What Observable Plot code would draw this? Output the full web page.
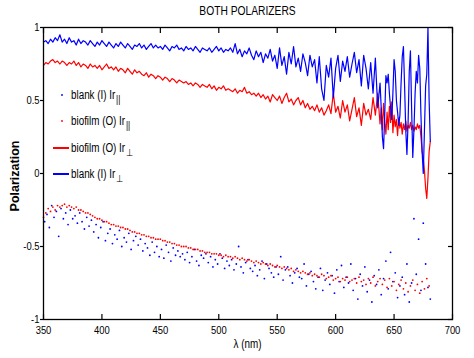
<!DOCTYPE html>
<html><head><meta charset="utf-8">
<script src="https://cdn.jsdelivr.net/npm/d3@7"></script>
<script src="https://cdn.jsdelivr.net/npm/@observablehq/plot@0.6"></script>
<style>
body{margin:0;background:#fff;}
#wrap{position:relative;width:474px;height:358px;overflow:hidden;font-family:"Liberation Sans",Arial,sans-serif;color:#000;}
#title{position:absolute;left:43px;width:409px;top:4px;text-align:center;font-size:12.5px;line-height:14px;transform:scaleX(0.82);transform-origin:center;}
#xlabel{position:absolute;left:43px;width:409px;top:337px;text-align:center;font-size:12px;line-height:14px;transform:scaleX(0.82);transform-origin:center;}
#ylabel{position:absolute;left:15px;top:176px;width:0;height:0;}
#ylabel span{position:absolute;transform:translate(-50%,-50%) rotate(-90deg);white-space:nowrap;font-weight:bold;font-size:12.5px;}
#chart{position:absolute;left:0;top:22px;}
.leg{position:absolute;left:50px;height:16px;display:flex;align-items:center;font-size:12px;white-space:nowrap;}
.leg svg{width:21px;height:16px;display:block;flex:none;}
.leg .txt{display:inline-block;transform:scaleX(0.82);transform-origin:left center;}
.sub{font-size:10px;position:relative;top:4px;margin-left:1px;}
</style>
</head><body>
<div id="wrap">
  <div id="title">BOTH POLARIZERS</div>
  <div id="chart"></div>
  <div id="xlabel">λ (nm)</div>
  <div id="ylabel"><span>Polarization</span></div>
  <div id="legend"></div>
</div>
<script>
// ---- data ----
const xTicks = [350, 400, 450, 500, 550, 600, 650, 700];
const yTicks = [-1, -0.5, 0, 0.5, 1];
const seriesNames = ["blank (I) Ir", "biofilm (O) Ir", "biofilm (O) Ir", "blank (I) Ir"];
const seriesSubs = ["||", "||", "⊥", "⊥"];

// wavelength grids (nm)
const lineLambda = [...d3.range(350, 640, 2), ...d3.range(639, 682, 1)];
const blankDotLambda = d3.range(351, 682, 2);
const biofilmDotLambda = d3.range(350, 681, 2);

// blank (I) Ir_perp  (blue line)
const blankPerp = [
  0.90,0.91,0.89,0.92,0.90,0.93,0.91,0.95,0.90,0.92,
  0.89,0.93,0.90,0.91,0.88,0.92,0.89,0.91,0.90,0.88,
  0.91,0.89,0.87,0.90,0.88,0.91,0.89,0.87,0.90,0.88,
  0.86,0.89,0.87,0.90,0.88,0.86,0.89,0.87,0.85,0.88,
  0.87,0.89,0.86,0.88,0.85,0.87,0.89,0.86,0.88,0.86,
  0.87,0.85,0.88,0.86,0.84,0.87,0.86,0.88,0.85,0.86,
  0.84,0.87,0.85,0.86,0.84,0.87,0.85,0.83,0.86,0.85,
  0.84,0.86,0.83,0.85,0.87,0.84,0.86,0.83,0.85,0.84,
  0.86,0.83,0.89,0.82,0.85,0.80,0.84,0.82,0.86,0.81,
  0.78,0.84,0.80,0.83,0.76,0.82,0.79,0.85,0.77,0.81,
  0.72,0.86,0.74,0.80,0.68,0.83,0.75,0.87,0.73,0.79,
  0.70,0.82,0.76,0.67,0.81,0.73,0.78,0.62,0.80,0.58,
  0.50,0.74,0.66,0.79,0.52,0.72,0.81,0.63,0.77,0.70,
  0.80,0.66,0.75,0.83,0.69,0.78,0.60,0.81,0.72,0.58,
  0.76,0.55,0.79,0.45,0.62,
  0.45,0.25,0.17,0.40,0.67,0.62,0.68,0.55,0.45,0.37,
  0.55,0.78,0.70,0.50,0.42,0.33,0.40,0.62,0.80,0.87,
  0.60,0.30,0.13,0.35,0.70,0.84,0.45,0.11,0.30,0.55,
  0.70,0.62,0.81,0.72,0.40,0.15,0.00,0.30,0.60,0.68,
  1.00,0.50,0.22
];

// biofilm (O) Ir_perp  (red line)
const biofilmPerp = [
  0.74,0.76,0.75,0.77,0.78,0.76,0.77,0.75,0.77,0.76,
  0.74,0.76,0.75,0.77,0.74,0.76,0.73,0.75,0.74,0.72,
  0.75,0.73,0.74,0.72,0.74,0.71,0.73,0.75,0.72,0.73,
  0.71,0.73,0.70,0.72,0.71,0.69,0.72,0.70,0.68,0.71,
  0.69,0.70,0.68,0.67,0.69,0.66,0.68,0.67,0.65,0.67,
  0.66,0.64,0.66,0.65,0.63,0.65,0.64,0.62,0.64,0.63,
  0.62,0.63,0.61,0.62,0.60,0.62,0.61,0.59,0.61,0.60,
  0.59,0.61,0.58,0.60,0.57,0.59,0.58,0.60,0.57,0.58,
  0.57,0.56,0.58,0.55,0.57,0.56,0.59,0.55,0.56,0.54,
  0.55,0.53,0.55,0.52,0.54,0.51,0.53,0.49,0.54,0.52,
  0.50,0.53,0.48,0.52,0.55,0.49,0.51,0.47,0.50,0.52,
  0.47,0.50,0.45,0.48,0.44,0.46,0.43,0.47,0.42,0.45,
  0.40,0.43,0.47,0.41,0.55,0.42,0.46,0.38,0.50,0.42,
  0.47,0.36,0.44,0.52,0.39,0.45,0.33,0.48,0.40,0.44,
  0.37,0.52,0.40,0.55,0.34,
  0.45,0.30,0.48,0.36,0.27,0.42,0.30,0.46,0.35,0.49,
  0.28,0.40,0.32,0.37,0.26,0.38,0.31,0.35,0.27,0.34,
  0.30,0.36,0.29,0.33,0.31,0.35,0.30,0.33,0.29,0.32,
  0.30,0.34,0.31,0.33,0.25,0.15,0.10,0.02,-0.10,-0.17,
  -0.03,0.15,0.22
];

// blank (I) Ir_par  (blue dots)
const blankPar = [
  -0.33,-0.28,-0.37,-0.22,-0.30,-0.26,-0.43,-0.24,-0.31,-0.27,
  -0.35,-0.25,-0.31,-0.29,-0.34,-0.27,-0.33,-0.38,-0.30,-0.36,
  -0.32,-0.40,-0.35,-0.44,-0.37,-0.33,-0.46,-0.41,-0.38,-0.48,
  -0.42,-0.45,-0.39,-0.50,-0.44,-0.47,-0.41,-0.52,-0.46,-0.43,
  -0.49,-0.45,-0.53,-0.48,-0.51,-0.56,-0.47,-0.54,-0.50,-0.57,
  -0.52,-0.58,-0.49,-0.54,-0.60,-0.51,-0.56,-0.53,-0.57,-0.55,
  -0.59,-0.54,-0.61,-0.57,-0.52,-0.60,-0.63,-0.56,-0.58,-0.55,
  -0.61,-0.57,-0.64,-0.59,-0.62,-0.55,-0.58,-0.65,-0.60,-0.63,
  -0.59,-0.66,-0.62,-0.50,-0.64,-0.68,-0.61,-0.59,-0.65,-0.67,
  -0.63,-0.70,-0.66,-0.60,-0.72,-0.62,-0.65,-0.68,-0.71,-0.64,
  -0.69,-0.57,-0.73,-0.66,-0.64,-0.70,-0.75,-0.68,-0.65,-0.71,
  -0.72,-0.62,-0.77,-0.69,-0.67,-0.74,-0.79,-0.71,-0.65,-0.80,
  -0.73,-0.68,-0.76,-0.70,-0.82,-0.66,-0.74,-0.63,-0.78,-0.71,
  -0.75,-0.62,-0.80,-0.72,-0.86,-0.69,-0.77,-0.64,-0.81,-0.73,
  -0.88,-0.70,-0.76,-0.66,-0.83,-0.72,-0.60,-0.79,-0.54,-0.74,
  -0.68,-0.85,-0.77,-0.71,-0.83,-0.62,-0.88,-0.75,-0.31,-0.69,
  -0.45,-0.80,-0.34,-0.62,-0.78,-0.86
];

// biofilm (O) Ir_par  (red dots)
const biofilmPar = [
  -0.30,-0.27,-0.24,-0.26,-0.23,-0.25,-0.22,-0.23,-0.22,-0.21,
  -0.23,-0.22,-0.23,-0.24,-0.23,-0.25,-0.25,-0.26,-0.27,-0.27,
  -0.28,-0.29,-0.30,-0.31,-0.31,-0.32,-0.33,-0.33,-0.34,-0.35,
  -0.35,-0.36,-0.36,-0.37,-0.37,-0.38,-0.38,-0.39,-0.40,-0.40,
  -0.41,-0.41,-0.42,-0.42,-0.43,-0.43,-0.44,-0.44,-0.45,-0.45,
  -0.45,-0.46,-0.46,-0.47,-0.47,-0.48,-0.48,-0.49,-0.49,-0.50,
  -0.50,-0.50,-0.51,-0.51,-0.52,-0.52,-0.52,-0.53,-0.53,-0.54,
  -0.54,-0.54,-0.55,-0.55,-0.55,-0.56,-0.56,-0.57,-0.56,-0.57,
  -0.57,-0.58,-0.57,-0.58,-0.59,-0.58,-0.59,-0.60,-0.59,-0.60,
  -0.61,-0.60,-0.61,-0.62,-0.61,-0.62,-0.63,-0.62,-0.63,-0.64,
  -0.63,-0.64,-0.65,-0.64,-0.65,-0.66,-0.65,-0.67,-0.66,-0.67,
  -0.68,-0.67,-0.68,-0.69,-0.68,-0.70,-0.69,-0.70,-0.71,-0.69,
  -0.70,-0.72,-0.71,-0.70,-0.73,-0.72,-0.71,-0.74,-0.72,-0.73,
  -0.71,-0.74,-0.73,-0.72,-0.75,-0.71,-0.74,-0.73,-0.76,-0.72,
  -0.75,-0.71,-0.77,-0.74,-0.72,-0.76,-0.73,-0.78,-0.72,-0.77,
  -0.74,-0.80,-0.76,-0.73,-0.79,-0.75,-0.81,-0.77,-0.73,-0.80,
  -0.76,-0.82,-0.74,-0.79,-0.72,-0.77
];

const colors = ["#0000ff", "#ff0000", "#ff0000", "#0000ff"];
const kinds = ["dot", "dot", "line", "line"];

// ---- build tables ----
const toRows = (xs, ys) => xs.map((x, i) => ({x, y: ys[i]}));
const blankParRows = toRows(blankDotLambda, blankPar);
const biofilmParRows = toRows(biofilmDotLambda, biofilmPar);
const biofilmPerpRows = toRows(lineLambda, biofilmPerp);
const blankPerpRows = toRows(lineLambda, blankPerp);

const fmt = d => String(d);

const chart = Plot.plot({
  width: 474,
  height: 336,
  marginTop: 5,
  marginBottom: 39,
  marginLeft: 43,
  marginRight: 22,
  style: {fontFamily: '"Liberation Sans",Arial,sans-serif', fontSize: "11.5px", color: "#000", background: "#fff", overflow: "visible"},
  x: {domain: [350, 700]},
  y: {domain: [-1, 1]},
  marks: [
    Plot.dot(blankParRows, {x: "x", y: "y", r: 0.9, fill: colors[0], stroke: null}),
    Plot.dot(biofilmParRows, {x: "x", y: "y", r: 0.9, fill: colors[1], stroke: null}),
    Plot.line(biofilmPerpRows, {x: "x", y: "y", stroke: colors[2], strokeWidth: 1.2}),
    Plot.line(blankPerpRows, {x: "x", y: "y", stroke: colors[3], strokeWidth: 1.2}),
    Plot.frame({stroke: "#000", strokeWidth: 1.3}),
    Plot.axisX({ticks: xTicks, tickSize: -5, tickPadding: 11, tickFormat: fmt, label: null, strokeWidth: 1.2}),
    Plot.axisX({anchor: "top", ticks: xTicks, tickSize: -5, tickFormat: () => "", label: null, strokeWidth: 1.2}),
    Plot.axisY({ticks: yTicks, tickSize: 3, tickPadding: 1, tickFormat: fmt, label: null, strokeWidth: 1.2}),
    Plot.axisY({anchor: "right", ticks: yTicks, tickSize: -5, tickFormat: () => "", label: null, strokeWidth: 1.2})
  ]
});
// condense tick labels horizontally (the reference uses a narrow face)
chart.querySelectorAll("text").forEach(t => {
  const tr = t.getAttribute("transform") || "";
  const x = +t.getAttribute("x") || 0;
  t.setAttribute("transform", `${tr} translate(${x},0) scale(0.82,1) translate(${-x},0)`);
});
document.getElementById("chart").appendChild(chart);

// ---- legend ----
const legend = document.getElementById("legend");
const rowTops = [87, 113, 140, 166];
seriesNames.forEach((name, i) => {
  const row = document.createElement("div");
  row.className = "leg";
  row.style.top = rowTops[i] + "px";
  const sw = kinds[i] === "dot"
    ? `<svg viewBox="0 0 21 16"><circle cx="12" cy="8" r="0.9" fill="${colors[i]}"/></svg>`
    : `<svg viewBox="0 0 21 16"><line x1="3" x2="19" y1="8" y2="8" stroke="${colors[i]}" stroke-width="2"/></svg>`;
  row.innerHTML = `${sw}<span class="txt">${name}<span class="sub">${seriesSubs[i]}</span></span>`;
  legend.appendChild(row);
});
</script>
</body></html>
